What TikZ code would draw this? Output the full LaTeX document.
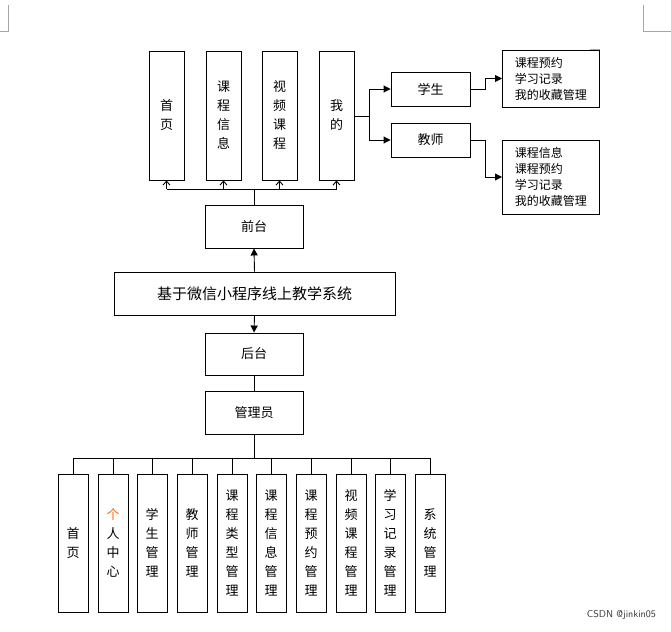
\documentclass[tikz,border=0pt]{standalone}
\usepackage{fontspec}
\newfontfamily\cjk{Noto Sans CJK SC}
\usetikzlibrary{arrows.meta}
\begin{document}
\begin{tikzpicture}[x=1pt,y=-1pt,
  bx/.style={draw,line width=0.9pt,fill=white,inner sep=0pt,font=\cjk\fontsize{13}{16}\selectfont},
  vt/.style={bx,align=center,font=\cjk\fontsize{13}{19}\selectfont},
  ln/.style={line width=0.9pt},
  fa/.style={ln,-{Triangle[length=7pt,width=7pt]}},
  oa/.style={ln,-{Straight Barb[length=4pt,width=7pt]}},
  crop/.style={gray!70,line width=0.8pt}]
\useasboundingbox (0,0) rectangle (671,631);
\fill[white] (0,0) rectangle (671,631);
\draw[crop] (0,31)--(8,31)--(8,5);
\draw[crop] (643,5)--(643,31)--(671,31);
\draw[crop] (590,49)--(600,49);
% top row
\node[vt,minimum width=35pt,minimum height=129pt] (a1) at (166.5,115.5) {首\\页};
\node[vt,minimum width=35pt,minimum height=129pt] (a2) at (223.5,115.5) {课\\程\\信\\息};
\node[vt,minimum width=35pt,minimum height=129pt] (a3) at (279.5,115.5) {视\\频\\课\\程};
\node[vt,minimum width=35pt,minimum height=129pt] (a4) at (336.5,115.5) {我\\的};
\node[bx,minimum width=98pt,minimum height=43pt] (qt) at (254,226.5) {前台};
\node[draw,line width=0.9pt,minimum width=281pt,minimum height=43pt,font=\cjk\fontsize{15}{18}\selectfont] (main) at (254.5,293.5) {基于微信小程序线上教学系统};
\node[bx,minimum width=98pt,minimum height=42pt] (ht) at (254,354) {后台};
\node[bx,minimum width=98pt,minimum height=43pt] (gly) at (254,412.5) {管理员};
\node[bx,minimum width=79pt,minimum height=34pt] (xs) at (430.5,89) {学生};
\node[bx,minimum width=79pt,minimum height=34pt] (js) at (430.5,140) {教师};
\node[bx,minimum width=97pt,minimum height=57pt,align=left,font=\cjk\fontsize{12}{16}\selectfont,anchor=west] (r1) at (502,78.5) {课程预约\\学习记录\\我的收藏管理};
\node[bx,minimum width=97pt,minimum height=74pt,align=left,font=\cjk\fontsize{12}{16}\selectfont,anchor=west] (r2) at (502,177) {课程信息\\课程预约\\学习记录\\我的收藏管理};
% top connectors
\coordinate (j1) at (254,189);
\draw[ln] (qt.north) -- (j1);
\draw[ln] (a1.south |- j1) -- (a4.south |- j1);
\foreach \n in {a1,a2,a3,a4} \draw[oa] (\n.south |- j1) -- (\n.south);
\draw[fa] (main.north) -- (qt.south);
\draw[fa] (main.south) -- (ht.north);
\draw[ln] (ht.south) -- (gly.north);
\draw[ln] (a4.east |- 0,116) -- (369,116);
\draw[fa] (369,116) |- (xs.west);
\draw[fa] (369,116) |- (js.west);
\draw[fa] (xs.east) -- (485,89) |- (r1.west);
\draw[fa] (js.east) -- (485,140) |- (r2.west);
% bottom
\coordinate (j2) at (254,458);
\draw[ln] (gly.south) -- (j2);
\foreach \i/\t [count=\k] in {58/{首\\页},98/{\textcolor{orange!80!red}{个}\\人\\中\\心},137/{学\\生\\管\\理},177/{教\\师\\管\\理},217/{课\\程\\类\\型\\管\\理},256/{课\\程\\信\\息\\管\\理},296/{课\\程\\预\\约\\管\\理},336/{视\\频\\课\\程\\管\\理},375/{学\\习\\记\\录\\管\\理},415/{系\\统\\管\\理}}{
  \node[vt,minimum width=30pt,minimum height=138pt] (b\k) at (\i+15,543) {\t};
  \draw[ln] (b\k.north) -- (b\k.north |- j2);
}
\draw[ln] (b1.north |- j2) -- (b10.north |- j2);
\node[anchor=south east,font=\fontsize{10}{12}\selectfont\sffamily,text=black!80,inner sep=2pt] (wm) at (658,622) {CSDN @jinkin05};
\end{tikzpicture}
\end{document}
